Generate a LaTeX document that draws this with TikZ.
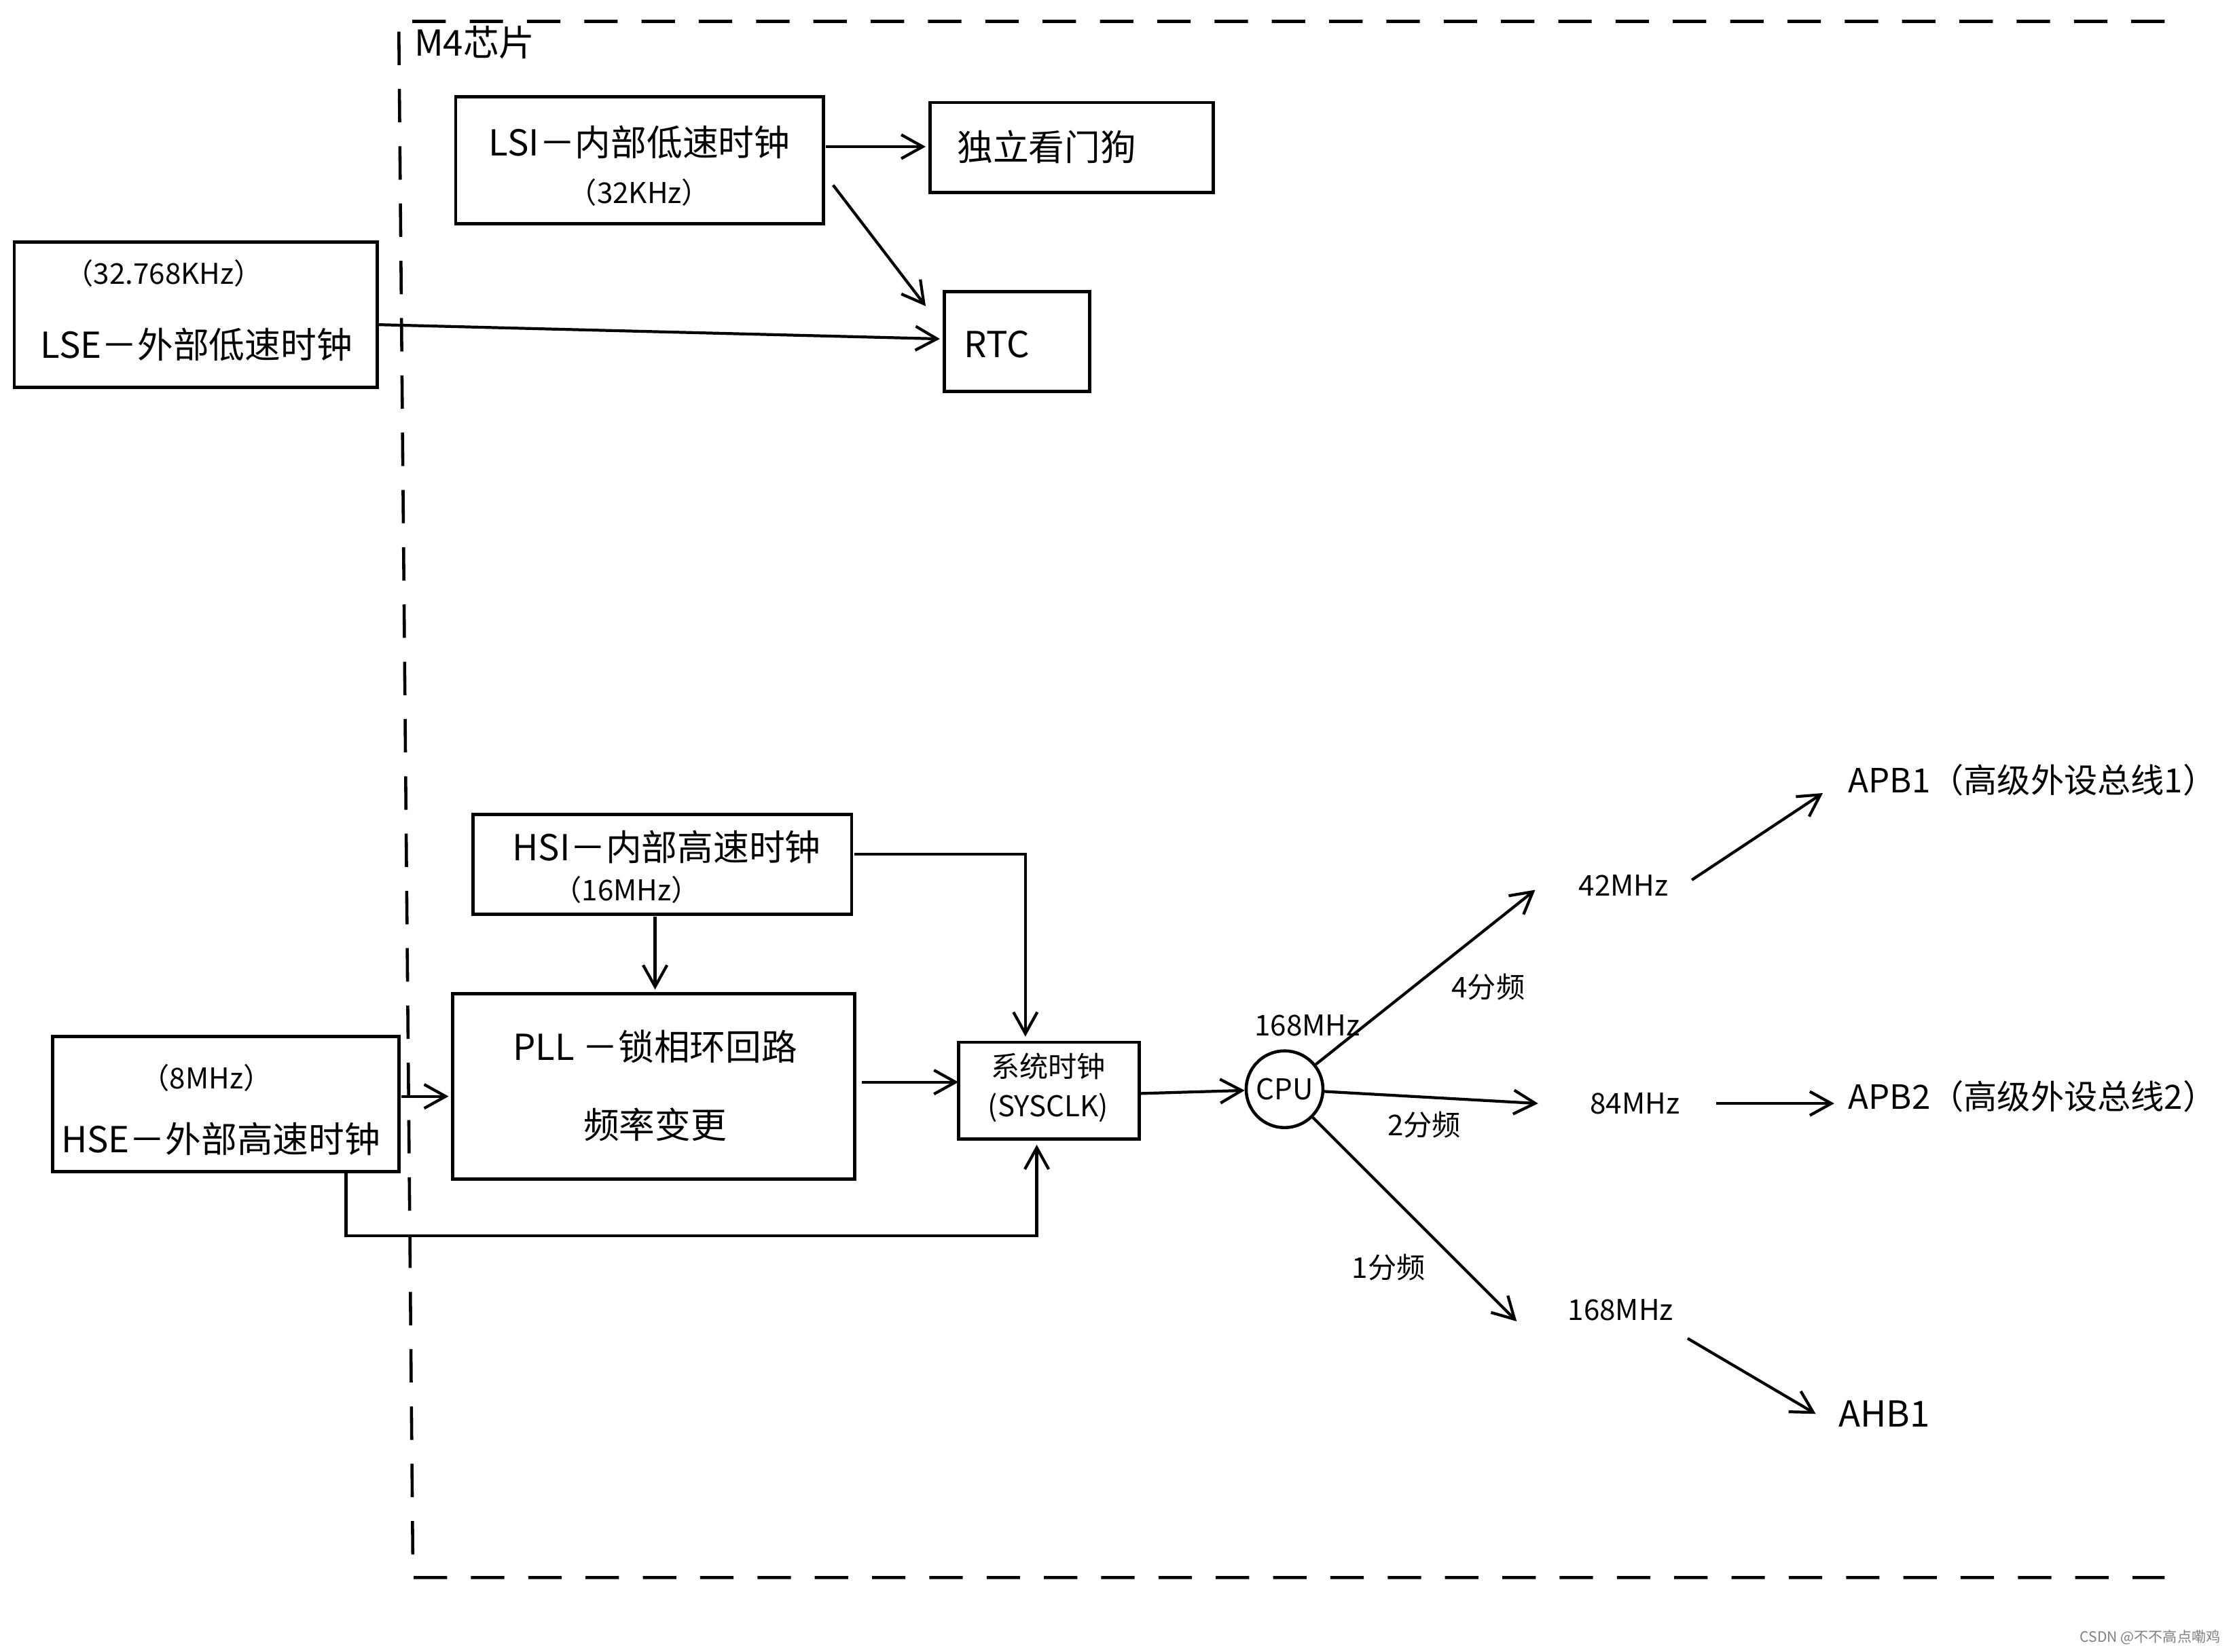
\documentclass[tikz,border=0pt]{standalone}
\usepackage{fontspec}
\setmainfont{Noto Sans CJK SC}
\usetikzlibrary{arrows.meta}
\begin{document}
\begin{tikzpicture}[x=0.02097cm,y=-0.02097cm,
  box/.style={draw,line width=1.4pt,inner sep=0pt},
  ar/.style={draw,line width=1.2pt,-{Straight Barb[length=9pt,width=10pt]}},
  t/.style={font=\fontsize{15}{18}\selectfont},
  s/.style={font=\fontsize{12}{14}\selectfont}]
\useasboundingbox (0,0) rectangle (1568,1160);
\fill[white] (0,0) rectangle (1568,1160);
% chip frame
\draw[line width=1.3pt,dash pattern=on 14pt off 10pt] (1520,15) -- (280,15) -- (290,1108) -- (1520,1108);
\node[t,anchor=west] (m4) at (285,30) {M4芯片};
% low speed
\draw[box] (320,68) rectangle (578,157);
\node[t] (lsi) at (449,100) {LSI－内部低速时钟};
\node[s] at (449,135) {（32KHz）};
\draw[box] (653,72) rectangle (852,135);
\node[t] (wdg) at (735,103) {独立看门狗};
\draw[box] (10,170) rectangle (265,272);
\node[s] at (115,192) {（32.768KHz）};
\node[t] (lse) at (138,242) {LSE－外部低速时钟};
\draw[box] (663,205) rectangle (765,275);
\node[t] (rtc) at (700,242) {RTC};
\coordinate (lsiR) at (580,103);
\coordinate (lsiRb) at (585,130);
\coordinate (wdgL) at (650,103);
\coordinate (rtcA) at (650,215);
\coordinate (rtcB) at (660,238);
\coordinate (lseR) at (265,228);
\draw[ar] (lsiR) -- (wdgL);
\draw[ar] (lsiRb) -- (rtcA);
\draw[ar] (lseR) -- (rtcB);
% high speed
\draw[box] (332,572) rectangle (598,642);
\node[t] (hsi) at (468,595) {HSI－内部高速时钟};
\node[s] at (440,625) {（16MHz）};
\draw[box] (318,698) rectangle (600,828);
\node[t] (pll) at (460,735) {PLL －锁相环回路};
\node[t] at (460,790) {频率变更};
\draw[box] (37,728) rectangle (280,823);
\node[s] at (145,757) {（8MHz）};
\node[t] (hse) at (155,800) {HSE－外部高速时钟};
\draw[box] (673,732) rectangle (800,800);
\node[s] (sys) at (736,749) {系统时钟};
\node[s] at (736,778) {(SYSCLK)};
\node[draw,circle,line width=1.3pt,minimum size=1.13cm,inner sep=0pt,s] (cpu) at (902,765) {CPU};
\coordinate (a1) at (460,644); \coordinate (a2) at (460,695);
\draw[ar] (a1) -- (a2);
\coordinate (b1) at (600,600); \coordinate (b2) at (720,728);
\draw[ar] (b1) -| (b2);
\coordinate (c1) at (282,770); \coordinate (c2) at (315,770);
\draw[ar] (c1) -- (c2);
\coordinate (d1) at (605,760); \coordinate (d2) at (673,760);
\draw[ar] (d1) -- (d2);
\coordinate (e1) at (243,824); \coordinate (e2) at (728,804);
\draw[ar] (e1) -- (243,868) -| (e2);
\coordinate (f1) at (800,768);
\draw[ar] (f1) -- (cpu);
\node[s] at (918,720) {168MHz};
% outputs
\node[s] (m42) at (1140,622) {42MHz};
\node[s] (m84) at (1148,775) {84MHz};
\node[s] (m168) at (1138,920) {168MHz};
\node[font=\fontsize{14}{17}\selectfont,anchor=west] (apb1) at (1292,548) {APB1（高级外设总线1）};
\node[font=\fontsize{14}{17}\selectfont,anchor=west] (apb2) at (1292,770) {APB2（高级外设总线2）};
\node[t,anchor=west] (ahb1) at (1285,993) {AHB1};
\coordinate (g1) at (1078,625);
\coordinate (g2) at (1080,775);
\coordinate (g3) at (1065,928);
\draw[ar] (cpu) -- (g1);
\draw[ar] (cpu) -- (g2);
\draw[ar] (cpu) -- (g3);
\node[s] at (1045,693) {4分频};
\node[s] at (1000,790) {2分频};
\node[s] at (975,890) {1分频};
\coordinate (h1) at (1188,618); \coordinate (h2) at (1280,557);
\draw[ar] (h1) -- (h2);
\coordinate (i1) at (1205,775); \coordinate (i2) at (1288,775);
\draw[ar] (i1) -- (i2);
\coordinate (j1) at (1185,940); \coordinate (j2) at (1275,993);
\draw[ar] (j1) -- (j2);
\node[font=\fontsize{6}{7}\selectfont,text=gray,anchor=east] (wm) at (1565,1150) {CSDN @不不高点嘞鸡};
\end{tikzpicture}
\end{document}
